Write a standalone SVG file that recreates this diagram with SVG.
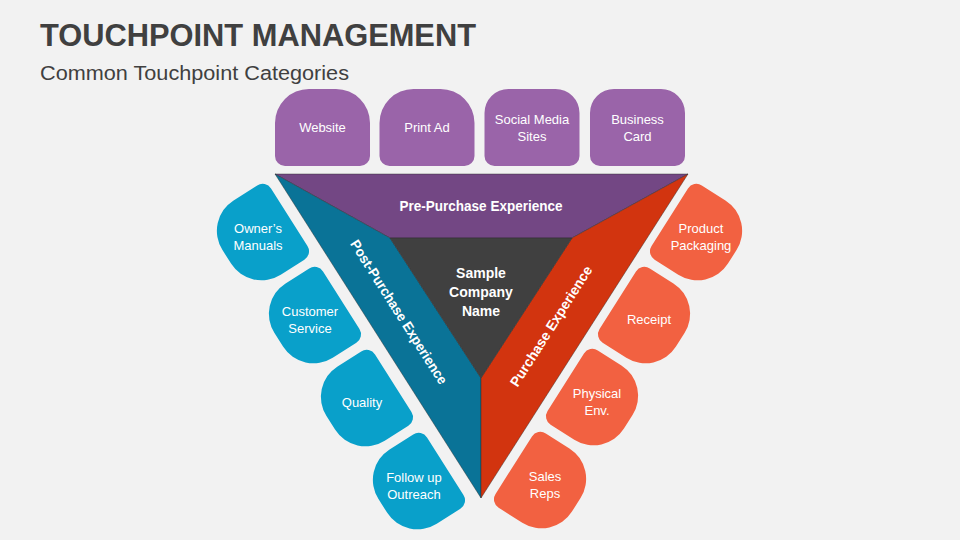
<svg xmlns="http://www.w3.org/2000/svg" xmlns:xlink="http://www.w3.org/1999/xlink" width="960" height="540" viewBox="0 0 960 540">
<style>
.t{font-family:"Liberation Sans",Arial,sans-serif;fill:#fff;font-size:13px;text-anchor:middle}
.b{font-family:"Liberation Sans",Arial,sans-serif;fill:#fff;font-size:14px;font-weight:bold;text-anchor:middle}
.band{stroke:#2a2a2a;stroke-opacity:0.55;stroke-width:0.8;stroke-linejoin:round}
.pb{fill:#9A64A9}
.bb{fill:#09A0CA}
.ob{fill:#F26141}
</style>
<defs>
<path id="bub" d="M -8,-37 H 8 A 36 36 0 0 1 44,-1 V 27 A 10 10 0 0 1 34,37 H -34 A 10 10 0 0 1 -44,27 V -1 A 36 36 0 0 1 -8,-37 Z"/>
<path id="boxA" d="M -13.5,-38.5 H 13.5 A 34 34 0 0 1 47.5,-4.5 V 28.5 A 10 10 0 0 1 37.5,38.5 H -37.5 A 10 10 0 0 1 -47.5,28.5 V -4.5 A 34 34 0 0 1 -13.5,-38.5 Z"/>
<path id="boxB" d="M -23.5,-38.5 H 23.5 A 24 24 0 0 1 47.5,-14.5 V 28.5 A 10 10 0 0 1 37.5,38.5 H -37.5 A 10 10 0 0 1 -47.5,28.5 V -14.5 A 24 24 0 0 1 -23.5,-38.5 Z"/>
</defs>
<rect width="960" height="540" fill="#F2F2F2"/>
<text x="40" y="46" font-family="Liberation Sans,Arial,sans-serif" font-weight="bold" font-size="32" fill="#404040" textLength="436" lengthAdjust="spacingAndGlyphs">TOUCHPOINT MANAGEMENT</text>
<text x="40" y="80" font-family="Liberation Sans,Arial,sans-serif" font-size="19.5" fill="#404040" textLength="309" lengthAdjust="spacingAndGlyphs">Common Touchpoint Categories</text>

<g id="bands">
<polygon id="pre-purchase" class="band" fill="#734784" points="275,174 688,174 572,238 390,238"/>
<polygon id="post-purchase" class="band" fill="#0A7397" points="275,174 390,238 481,378 481,498"/>
<polygon id="purchase" class="band" fill="#D2340F" points="688,174 572,238 481,378 481,498"/>
<polygon id="company" class="band" fill="#404040" points="390,238 572,238 481,378"/>
<text class="b" x="481" y="211" textLength="163" lengthAdjust="spacingAndGlyphs">Pre-Purchase Experience</text>
<text class="b" x="481" y="278" font-size="14.5">Sample</text>
<text class="b" x="481" y="297" font-size="14.5">Company</text>
<text class="b" x="481" y="316" font-size="14.5">Name</text>
<text class="b" transform="translate(399,312) rotate(57.5)" y="5" textLength="168" lengthAdjust="spacingAndGlyphs">Post-Purchase Experience</text>
<text class="b" transform="translate(551,326) rotate(-57.5)" y="5" textLength="140" lengthAdjust="spacingAndGlyphs">Purchase Experience</text>
</g>

<g id="website"><use xlink:href="#boxA" class="pb" transform="translate(322.5,127.5)"/><text class="t" x="322.5" y="132">Website</text></g>
<g id="print-ad"><use xlink:href="#boxA" class="pb" transform="translate(427,127.5)"/><text class="t" x="427" y="132">Print Ad</text></g>
<g id="social-media"><use xlink:href="#boxB" class="pb" transform="translate(532,127.5)"/><text class="t" x="532" y="124">Social Media</text><text class="t" x="532" y="141">Sites</text></g>
<g id="business-card"><use xlink:href="#boxB" class="pb" transform="translate(637.5,127.5)"/><text class="t" x="637.5" y="124">Business</text><text class="t" x="637.5" y="141">Card</text></g>

<g id="owners-manuals"><use xlink:href="#bub" class="bb" transform="translate(258,237) rotate(-122.4)"/><text class="t" x="258" y="233">Owner’s</text><text class="t" x="258" y="250">Manuals</text></g>
<g id="customer-service"><use xlink:href="#bub" class="bb" transform="translate(310,320) rotate(-122.4)"/><text class="t" x="310" y="316">Customer</text><text class="t" x="310" y="333">Service</text></g>
<g id="quality"><use xlink:href="#bub" class="bb" transform="translate(362,403) rotate(-122.4)"/><text class="t" x="362" y="407">Quality</text></g>
<g id="follow-up"><use xlink:href="#bub" class="bb" transform="translate(414,486) rotate(-122.4)"/><text class="t" x="414" y="482">Follow up</text><text class="t" x="414" y="499">Outreach</text></g>

<g id="product-packaging"><use xlink:href="#bub" class="ob" transform="translate(701,237) rotate(122.4)"/><text class="t" x="701" y="233">Product</text><text class="t" x="701" y="250">Packaging</text></g>
<g id="receipt"><use xlink:href="#bub" class="ob" transform="translate(649,320) rotate(122.4)"/><text class="t" x="649" y="324">Receipt</text></g>
<g id="physical-env"><use xlink:href="#bub" class="ob" transform="translate(597,402) rotate(122.4)"/><text class="t" x="597" y="398">Physical</text><text class="t" x="597" y="415">Env.</text></g>
<g id="sales-reps"><use xlink:href="#bub" class="ob" transform="translate(545,485) rotate(122.4)"/><text class="t" x="545" y="481">Sales</text><text class="t" x="545" y="498">Reps</text></g>
<g id="connectors"/>
</svg>
